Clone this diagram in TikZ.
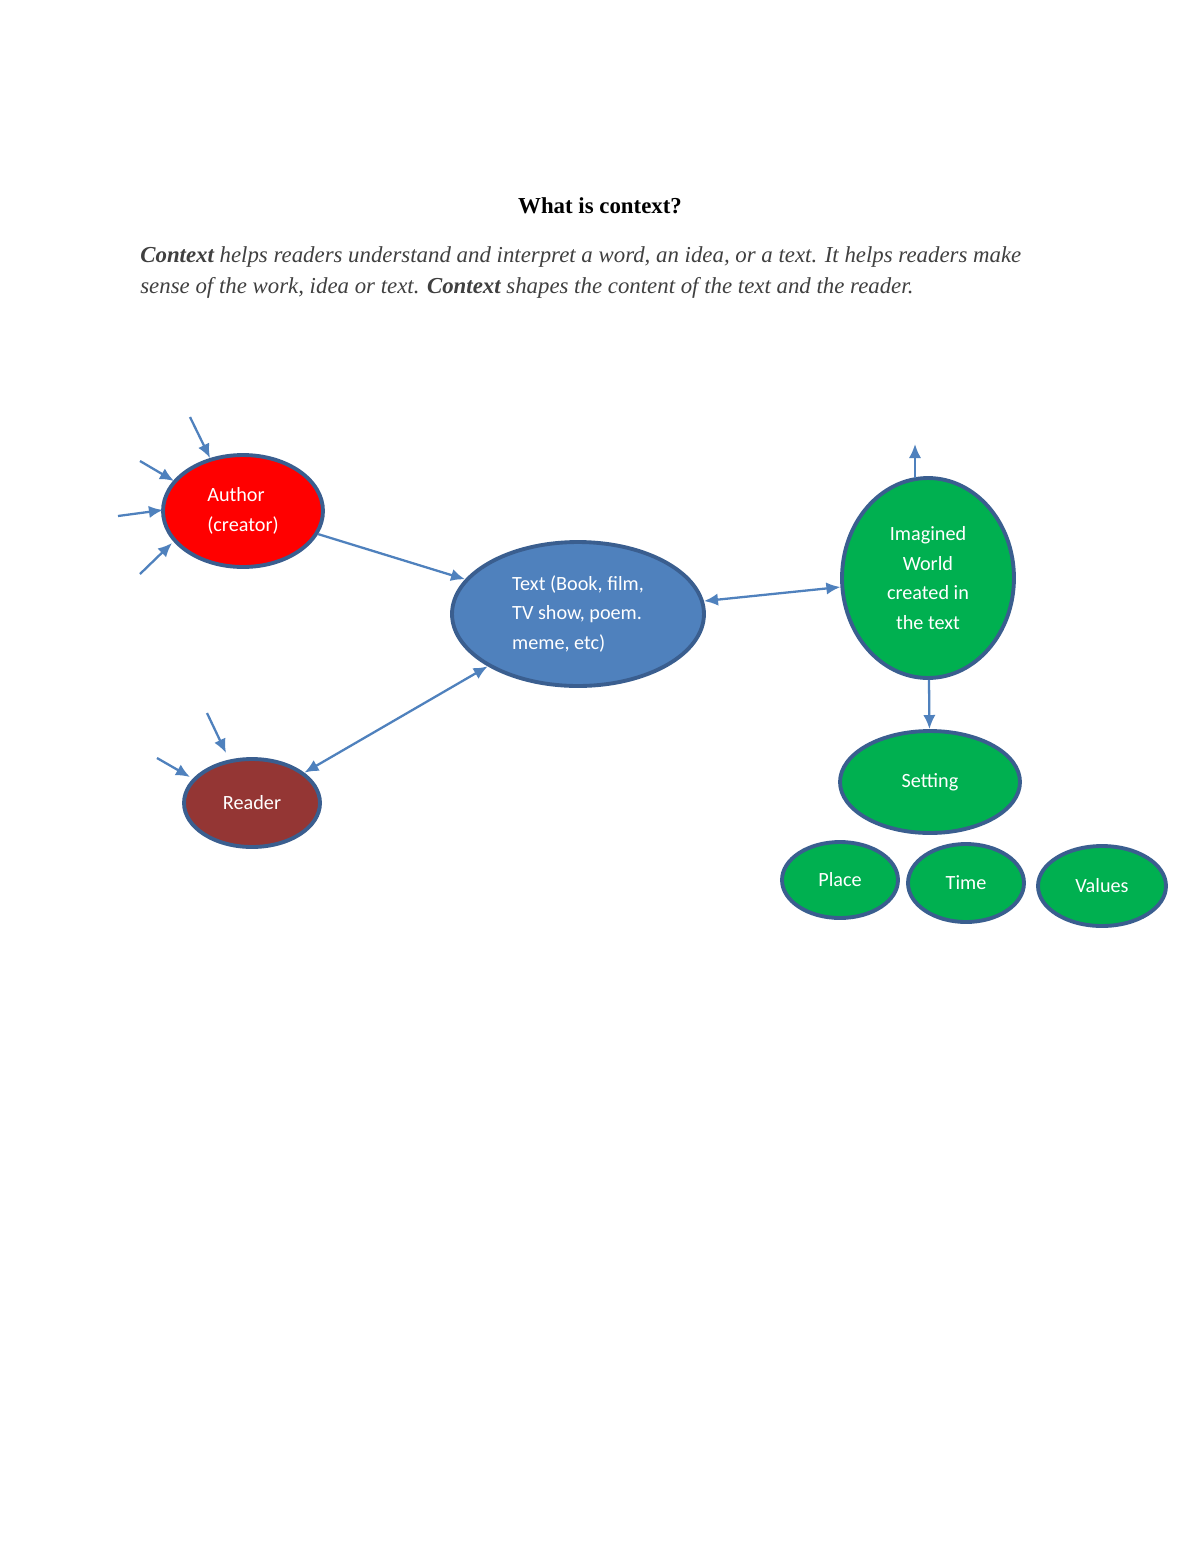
\documentclass[tikz,border=0pt]{standalone}
\usepackage{fontspec}
\setmainfont{Liberation Serif}
\newfontfamily\calfont{Carlito}
\usetikzlibrary{shapes.geometric,arrows.meta}
\definecolor{bord}{HTML}{3A5E8F}
\definecolor{ablue}{HTML}{4F81BD}
\definecolor{tblue}{HTML}{4F81BD}
\definecolor{gr}{HTML}{00B050}
\definecolor{rd}{HTML}{943634}
\definecolor{para}{HTML}{404040}
\tikzset{
 ell/.style={ellipse,draw=bord,line width=2.2pt,inner sep=0pt,text=white,font=\calfont\fontsize{11.5}{17}\selectfont,align=left},
 conn/.style={draw=ablue,line width=1.3pt,-{Latex[length=8pt,width=7pt]}},
 conn2/.style={conn,{Latex[length=8pt,width=7pt]}-{Latex[length=8pt,width=7pt]}}
}
\begin{document}
\begin{tikzpicture}[x=0.02cm,y=-0.02cm]
\useasboundingbox[fill=white] (0,0) rectangle (1200,1553);
\node[font=\bfseries\fontsize{13}{15}\selectfont] (title) at (600,206) {What is context?};
\node[anchor=west,inner sep=0,text=para,font=\itshape\fontsize{13}{15}\selectfont] (p1) at (140,257) {\textbf{Context} helps readers understand and interpret a word, an idea, or a text. It helps readers make};
\node[anchor=west,inner sep=0,text=para,font=\itshape\fontsize{13}{15}\selectfont] (p2) at (140,288) {sense of the work, idea or text. \textbf{Context} shapes the content of the text and the reader.};

\node[ell,fill=red,minimum width=3.2cm,minimum height=2.24cm] (author) at (243,511) {Author\\(creator)};
\node[ell,fill=tblue,minimum width=5.04cm,minimum height=2.88cm] (text) at (578,614) {Text (Book, film,\\TV show, poem.\\meme, etc)};
\node[ell,fill=gr,minimum width=3.44cm,minimum height=4cm,align=center] (world) at (928,578) {Imagined\\World\\created in\\the text};
\node[ell,fill=gr,minimum width=3.6cm,minimum height=2.04cm] (setting) at (930,782) {Setting};
\node[ell,fill=rd,minimum width=2.72cm,minimum height=1.76cm] (reader) at (252,803) {Reader};
\node[ell,fill=gr,minimum width=2.32cm,minimum height=1.52cm] (place) at (840,880) {Place};
\node[ell,fill=gr,minimum width=2.32cm,minimum height=1.56cm] (time) at (966,883) {Time};
\node[ell,fill=gr,minimum width=2.56cm,minimum height=1.6cm] (values) at (1102,886) {Values};

\coordinate (a1) at (190,417); \coordinate (a2) at (140,461);
\coordinate (a3) at (118,516); \coordinate (a4) at (140,574);
\coordinate (r1) at (207,713); \coordinate (r2) at (157,758);
\coordinate (up) at (915,444);
\coordinate (upb) at (915,478);

\draw[conn] (author) -- (text);
\draw[conn2] (reader) -- (text);
\draw[conn2] (text) -- (world);
\draw[conn] (upb) -- (up);
\draw[conn] (world) -- (setting);
\draw[conn] (a1) -- (210,458);
\draw[conn] (a2) -- (174,481);
\draw[conn] (a3) -- (163,510);
\draw[conn] (a4) -- (172,543);
\draw[conn] (r1) -- (226,753);
\draw[conn] (r2) -- (190,777);
\end{tikzpicture}
\end{document}
